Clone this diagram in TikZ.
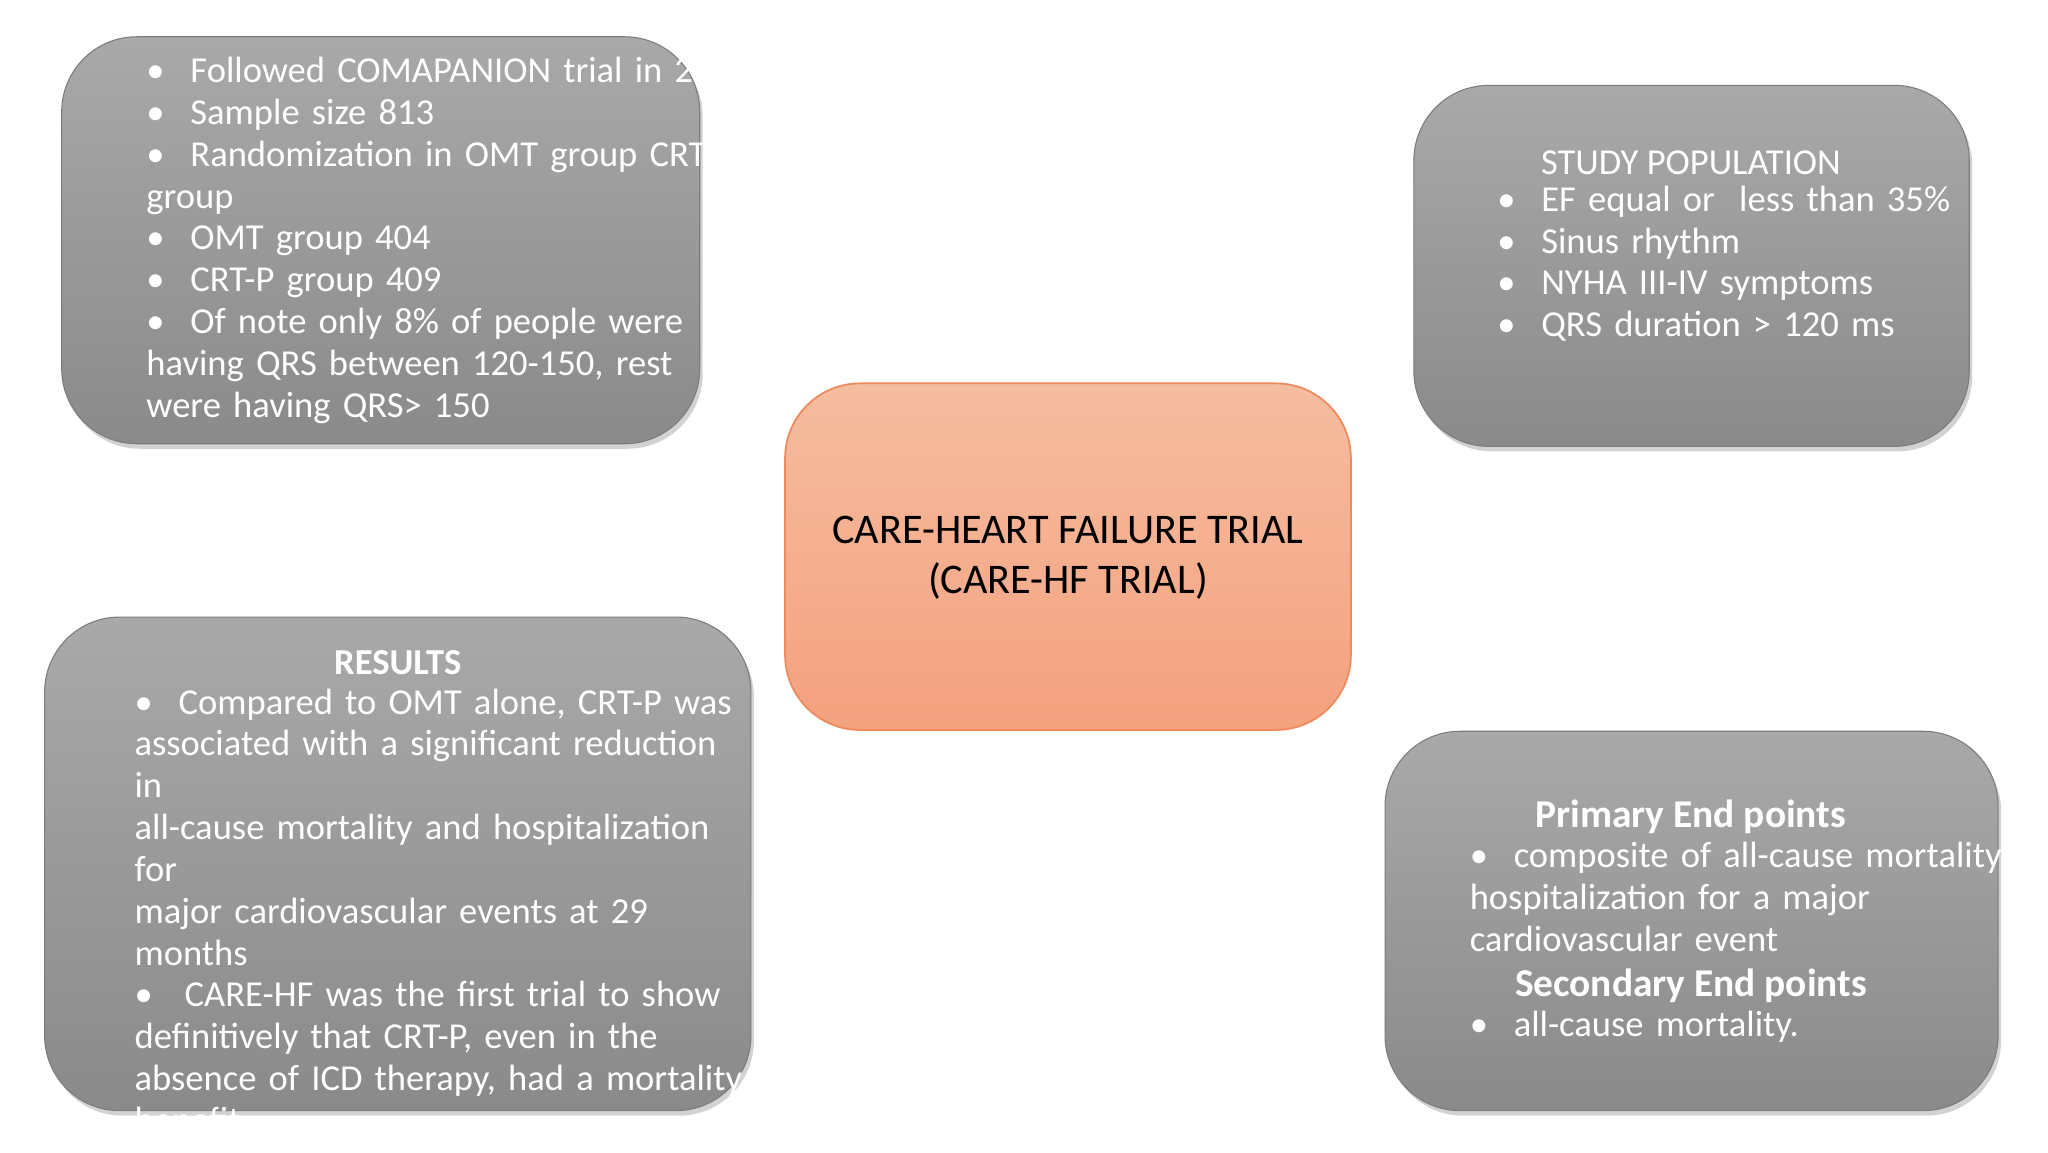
\documentclass[tikz,border=0pt]{standalone}
\usepackage{fontspec}
\setmainfont{Carlito}
\usetikzlibrary{shadows}
\definecolor{gtop}{HTML}{A9A9A9}
\definecolor{gbot}{HTML}{8A8A8A}
\definecolor{otop}{HTML}{F5BDA0}
\definecolor{obot}{HTML}{F4A17F}
\definecolor{oline}{HTML}{EE8A5C}
\newcommand{\bl}[1]{\hangindent=0.44cm\hangafter=0\noindent\llap{\makebox[0.44cm][l]{\textbullet}}#1\par}
\tikzset{
 gbox/.style={rounded corners=0.75cm, top color=gtop, bottom color=gbot, draw=gbot!90!black, line width=0.3pt,
   drop shadow={shadow xshift=0.03cm, shadow yshift=-0.05cm, opacity=0.35}},
 txt/.style={anchor=north west, text=white, font=\fontsize{10.4}{11.9}\selectfont, align=left, inner sep=0pt, text width=#1},
 hd/.style={text=white, font=\fontsize{10.4}{11.9}\selectfont, inner sep=0pt}
}
\begin{document}
\begin{tikzpicture}[x=0.013128cm,y=-0.013128cm]
\useasboundingbox (0,0) rectangle (1560,877.5);
\fill[white] (0,0) rectangle (1560,877.5);
\path[gbox] (47,28) rectangle (533,338);
\path[gbox] (1077,65) rectangle (1500,340);
\path[gbox] (34,470) rectangle (572,846);
\path[gbox] (1055,557) rectangle (1522,846);
\path[rounded corners=0.75cm, top color=otop, bottom color=obot, draw=oline, line width=0.5pt] (598,292) rectangle (1029,556);
\node[font=\fontsize{12}{14.2}\selectfont, align=center, text=black] (c) at (813.5,425) {CARE-HEART FAILURE TRIAL\\(CARE-HF TRIAL)};
\node[txt=6.2cm] (tl) at (111,43) {%
\bl{Followed COMAPANION trial in 2005}
\bl{Sample size 813}
\bl{Randomization in OMT group CRT-P\\group}
\bl{OMT group 404}
\bl{CRT-P group 409}
\bl{Of note only 8\% of people were\\having QRS between 120-150, rest\\were having QRS> 150}};
\node[hd] (sp) at (1288,124) {STUDY POPULATION};
\node[txt=5cm] (tr) at (1140,141) {%
\bl{EF equal or \ less than 35\%}
\bl{Sinus rhythm}
\bl{NYHA III-IV symptoms}
\bl{QRS duration > 120 ms}};
\node[hd, font=\bfseries\fontsize{10.4}{11.9}\selectfont] (res) at (303,505) {RESULTS};
\node[txt=6.2cm] (bl) at (102,524) {%
\bl{Compared to OMT alone, CRT-P was\\associated with a significant reduction in\\all-cause mortality and hospitalization for\\major cardiovascular events at 29\\months}
\bl{\,CARE-HF was the first trial to show\\definitively that CRT-P, even in the\\absence of ICD therapy, had a mortality\\benefit}};
\node[hd, font=\bfseries\fontsize{11.2}{12}\selectfont] (pe) at (1288,622) {Primary End points};
\node[txt=6cm] (br1) at (1119,641) {%
\bl{composite of all-cause mortality or\\hospitalization for a major\\cardiovascular event}};
\node[hd, font=\bfseries\fontsize{11.2}{12}\selectfont] (se) at (1288,751) {Secondary End points};
\node[txt=6cm] (br2) at (1119,770) {\bl{all-cause mortality.}};
\end{tikzpicture}
\end{document}
